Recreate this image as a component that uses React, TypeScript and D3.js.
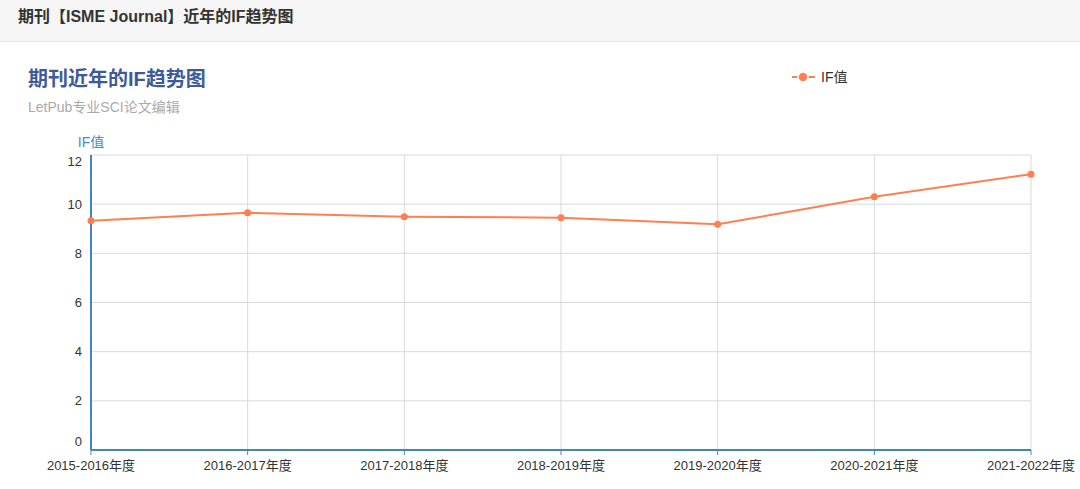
import * as d3 from 'd3';

const categories = [
  '2015-2016年度',
  '2016-2017年度',
  '2017-2018年度',
  '2018-2019年度',
  '2019-2020年度',
  '2020-2021年度',
  '2021-2022年度',
];
const ifValues = [9.33, 9.65, 9.49, 9.45, 9.18, 10.3, 11.22];
const yTicks = [0, 2, 4, 6, 8, 10, 12];

const W = 1080;
const H = 489;
const font = '"Liberation Sans", "Noto Sans CJK SC", sans-serif';

export default function App() {
  const left = 91;
  const right = 1031;
  const top = 155;
  const bottom = 450;

  const x = d3.scalePoint<string>().domain(categories).range([left, right]);
  const y = d3.scaleLinear().domain([0, 12]).range([bottom, top]);

  const line = d3
    .line<number>()
    .x((_, i) => x(categories[i]) as number)
    .y((d) => y(d));

  // first/last tick labels are nudged inside the plot, like the original
  const labelY = (t: number) => {
    if (t === 12) return y(t) + 6;
    if (t === 0) return y(t) - 9;
    return y(t);
  };

  return (
    <svg
      width={W}
      height={H}
      style={{ position: 'absolute', left: 0, top: 0, background: '#fff' }}
      fontFamily={font}
    >
      {/* page header */}
      <rect x={0} y={0} width={W} height={41} fill="#f5f5f5" />
      <line x1={0} x2={W} y1={41.5} y2={41.5} stroke="#e6e6e6" />
      <text x={18} y={16} dominantBaseline="central" fontSize={16} fontWeight="bold" fill="#333">
        期刊【ISME Journal】近年的IF趋势图
      </text>

      {/* title */}
      <text x={28} y={79} dominantBaseline="central" fontSize={20} fontWeight="bold" fill="#3d5a99">
        期刊近年的IF趋势图
      </text>
      <text x={28} y={107} dominantBaseline="central" fontSize={14} fill="#aaa">
        LetPub专业SCI论文编辑
      </text>

      {/* legend */}
      <g>
        <line x1={792} x2={815} y1={77} y2={77} stroke="#ff7f50" strokeWidth={2} />
        <circle cx={803} cy={77} r={5} fill="#ff7f50" stroke="#fff" strokeWidth={1.5} />
        <text x={821} y={77} dominantBaseline="central" fontSize={14} fill="#333">
          IF值
        </text>
      </g>

      {/* grid */}
      {yTicks.map((t) => (
        <line key={'h' + t} x1={left} x2={right} y1={y(t)} y2={y(t)} stroke="#d9d9d9" strokeWidth={1} />
      ))}
      {categories.map((c) => (
        <line key={'v' + c} x1={x(c)} x2={x(c)} y1={top} y2={bottom} stroke="#d9d9d9" strokeWidth={1} />
      ))}

      {/* y axis */}
      <line x1={left} x2={left} y1={top} y2={bottom} stroke="#3f86c0" strokeWidth={2} />
      <text x={91} y={142} textAnchor="middle" dominantBaseline="central" fontSize={14} fill="#4a8cc4">
        IF值
      </text>
      {yTicks.map((t) => (
        <text
          key={'yl' + t}
          x={82}
          y={labelY(t)}
          textAnchor="end"
          dominantBaseline="central"
          fontSize={13}
          fill="#333"
        >
          {t}
        </text>
      ))}

      {/* x axis */}
      <line x1={left} x2={right} y1={bottom} y2={bottom} stroke="#3f86c0" strokeWidth={2} />
      {categories.map((c) => (
        <g key={'xl' + c}>
          <line x1={x(c)} x2={x(c)} y1={bottom} y2={bottom + 5} stroke="#3f86c0" strokeWidth={1} />
          <text x={x(c)} y={465} textAnchor="middle" dominantBaseline="central" fontSize={13} fill="#333">
            {c}
          </text>
        </g>
      ))}

      {/* series */}
      <path d={line(ifValues) || ''} fill="none" stroke="#ff7f50" strokeWidth={2} />
      {ifValues.map((v, i) => (
        <circle key={'p' + i} cx={x(categories[i])} cy={y(v)} r={3.5} fill="#ff7f50" />
      ))}
    </svg>
  );
}
